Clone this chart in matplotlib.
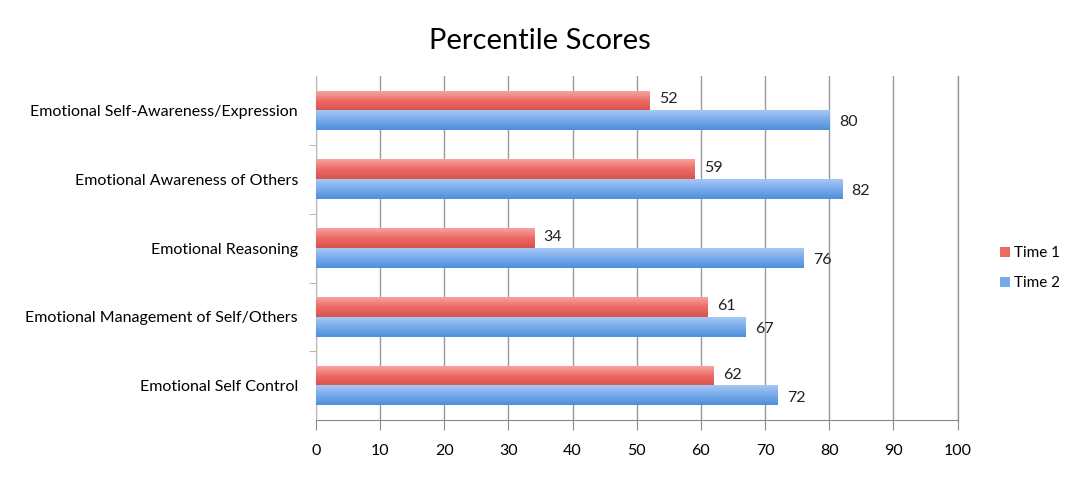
import numpy as np
import matplotlib
matplotlib.use("Agg")
import matplotlib.pyplot as plt
from matplotlib.colors import LinearSegmentedColormap
from matplotlib.patches import Patch

plt.rcParams['font.family'] = ['Lato', 'DejaVu Sans']

# data, top to bottom as in the chart
categories = ["Emotional Self-Awareness/Expression",
              "Emotional Awareness of Others",
              "Emotional Reasoning",
              "Emotional Management of Self/Others",
              "Emotional Self Control"]
time1 = [52, 59, 34, 61, 62]
time2 = [80, 82, 76, 67, 72]
series_names = ["Time 1", "Time 2"]

red_grad = LinearSegmentedColormap.from_list("r", ["#f7a3a0", "#ec6a64", "#d9524c"])
blue_grad = LinearSegmentedColormap.from_list("b", ["#a6c8f5", "#78aaea", "#4d8fdc"])

fig = plt.figure(figsize=(10.8, 4.79), dpi=100)
ax = fig.add_axes([0.2926, 0.123, 0.594, 0.718])

h = 0.285
grad = np.linspace(0, 1, 64).reshape(-1, 1)

def draw_bar(y, v, cmap):
    # vertical gradient: light at top, darker at bottom
    ax.imshow(grad, cmap=cmap, aspect='auto', interpolation='bicubic',
              extent=(0, v, y + h / 2, y - h / 2), zorder=3)

for i, (a, b) in enumerate(zip(time1, time2)):
    y1 = i - h / 2
    y2 = i + h / 2
    draw_bar(y1, a, red_grad)
    draw_bar(y2, b, blue_grad)
    ax.text(a + 1.5, y1 - 0.02, str(a), va='center', ha='left', fontsize=11.5, color='#222222')
    ax.text(b + 1.5, y2 + 0.03, str(b), va='center', ha='left', fontsize=11.5, color='#222222')

ax.set_xlim(0, 100)
ax.set_ylim(len(categories) - 0.5, -0.5)
ax.set_xticks(np.arange(0, 101, 10))
ax.set_yticks(range(len(categories)))
ax.set_yticklabels(categories, fontsize=11.5)
ax.set_yticks(np.arange(0.5, len(categories) - 0.5, 1), minor=True)
ax.tick_params(axis='y', which='major', length=0, pad=13)
ax.tick_params(axis='y', which='minor', length=5, color='#aaaaaa')
ax.tick_params(axis='x', length=7, color='#888888', pad=10, labelsize=11.5)

ax.grid(axis='x', color='#999999', linewidth=1, zorder=0)
ax.set_axisbelow(True)
for s in ['top', 'right']:
    ax.spines[s].set_visible(False)
ax.spines['left'].set_color('#bbbbbb')
ax.spines['bottom'].set_color('#888888')
# gridline at 100 is clipped at the axes edge, draw it again
ax.axvline(100, color='#999999', linewidth=1, clip_on=False, zorder=0)

fig.text(0.5, 0.915, "Percentile Scores", ha='center', va='center', fontsize=21)

handles = [Patch(facecolor='#ec6a64'), Patch(facecolor='#78aaea')]
fig.legend(handles, series_names, loc='center left', bbox_to_anchor=(0.913, 0.44),
           frameon=False, handlelength=0.65, handleheight=0.65, handletextpad=0.3,
           labelspacing=1.05, fontsize=11)

fig.savefig("out.png", dpi=100)
